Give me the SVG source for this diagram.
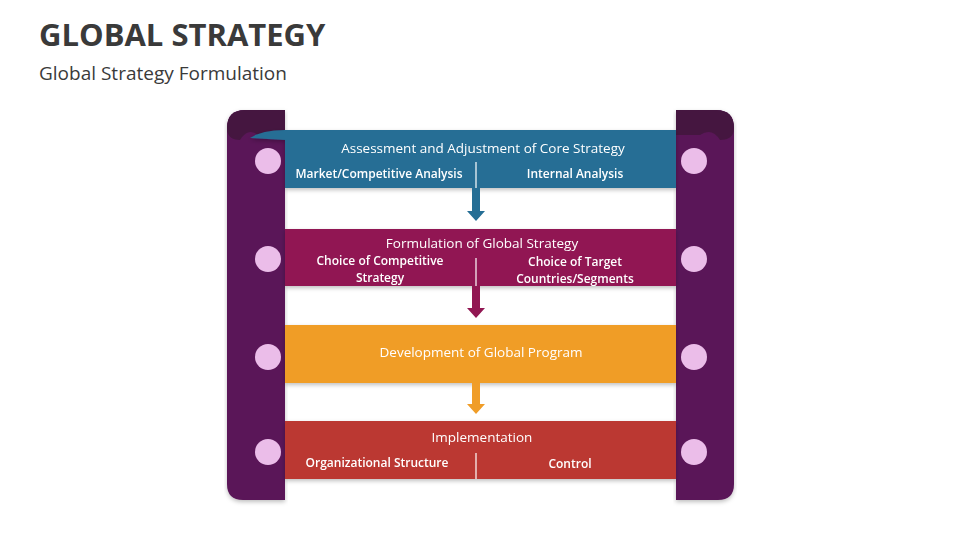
<svg xmlns="http://www.w3.org/2000/svg" width="960" height="540" viewBox="0 0 960 540">
<style>
text{font-family:"Open Sans","Liberation Sans",sans-serif;fill:#fff}
.h{font-size:13.5px}.s{font-size:12px;font-weight:600}
.dot{fill:#ebbde9}.pil{fill:#5a1858}.cap{fill:#451340}
.div{stroke:#fff;stroke-width:1.2}
</style>
<defs><filter id="sh" x="-5%" y="-5%" width="110%" height="120%"><feDropShadow dx="0" dy="2" stdDeviation="2" flood-opacity="0.25"/></filter></defs>
<rect width="960" height="540" fill="#fff"/>
<text x="39" y="46" style="font-family:'Open Sans','Liberation Sans',sans-serif;font-size:31px;font-weight:700;fill:#3a3a3a">GLOBAL STRATEGY</text>
<text x="39" y="80" style="font-size:19px;fill:#3a3a3a">Global Strategy Formulation</text>
<g id="left-pillar" filter="url(#sh)">
<path class="pil" d="M227 128 Q227 110 245 110 H285 V500 H243 Q227 500 227 484 Z"/>
<path class="cap" d="M227 128 Q227 110 245 110 H285 V135 H258 Q248 127 240 140 Q227 140 227 128 Z"/>
</g>
<g id="right-pillar" filter="url(#sh)">
<path class="pil" d="M676 110 H716 Q734 110 734 128 V484 Q734 500 718 500 H676 Z"/>
<path class="cap" d="M676 110 H716 Q734 110 734 128 Q734 140 720 140 Q712 127 700 135 H676 Z"/>
</g>
<g id="band1" filter="url(#sh)">
<path d="M285 130 H676 V188 H285 Z" fill="#256e95"/>
<path d="M250 138 Q262 130 285 130 V140 Z" fill="#256e95"/>
<text class="h" x="483" y="153" text-anchor="middle">Assessment and Adjustment of Core Strategy</text>
<line class="div" x1="476" y1="162" x2="476" y2="188"/>
<text class="s" x="379" y="178" text-anchor="middle">Market/Competitive Analysis</text>
<text class="s" x="575" y="178" text-anchor="middle">Internal Analysis</text>
</g>
<g id="band2" filter="url(#sh)">
<rect x="285" y="229" width="391" height="57" fill="#911652"/>
<text class="h" x="482" y="248" text-anchor="middle">Formulation of Global Strategy</text>
<line class="div" x1="476" y1="258" x2="476" y2="286"/>
<text class="s" x="380" y="265" text-anchor="middle">Choice of Competitive</text>
<text class="s" x="380" y="282" text-anchor="middle">Strategy</text>
<text class="s" x="575" y="266" text-anchor="middle">Choice of Target</text>
<text class="s" x="575" y="283" text-anchor="middle">Countries/Segments</text>
</g>
<g id="band3" filter="url(#sh)">
<rect x="285" y="325" width="391" height="58" fill="#f09d28"/>
<text class="h" x="481" y="357" text-anchor="middle">Development of Global Program</text>
</g>
<g id="band4" filter="url(#sh)">
<rect x="285" y="421" width="391" height="58" fill="#bb3731"/>
<text class="h" x="482" y="442" text-anchor="middle">Implementation</text>
<line class="div" x1="476" y1="453" x2="476" y2="479"/>
<text class="s" x="377" y="467" text-anchor="middle">Organizational Structure</text>
<text class="s" x="570" y="468" text-anchor="middle">Control</text>
</g>
<g id="dots">
<circle class="dot" cx="268" cy="161" r="13"/><circle class="dot" cx="694" cy="161" r="13"/>
<circle class="dot" cx="268" cy="259" r="13"/><circle class="dot" cx="694" cy="259" r="13"/>
<circle class="dot" cx="268" cy="357" r="13"/><circle class="dot" cx="694" cy="357" r="13"/>
<circle class="dot" cx="268" cy="452" r="13"/><circle class="dot" cx="694" cy="452" r="13"/>
</g>
<g id="connectors">
<path d="M472 188 H480 V211 H485 L476 221 L467 211 H472 Z" fill="#256e95"/>
<path d="M472 286 H480 V308 H485 L476 318 L467 308 H472 Z" fill="#911652"/>
<path d="M472 383 H480 V404 H485 L476 414 L467 404 H472 Z" fill="#f09d28"/>
</g>
</svg>
